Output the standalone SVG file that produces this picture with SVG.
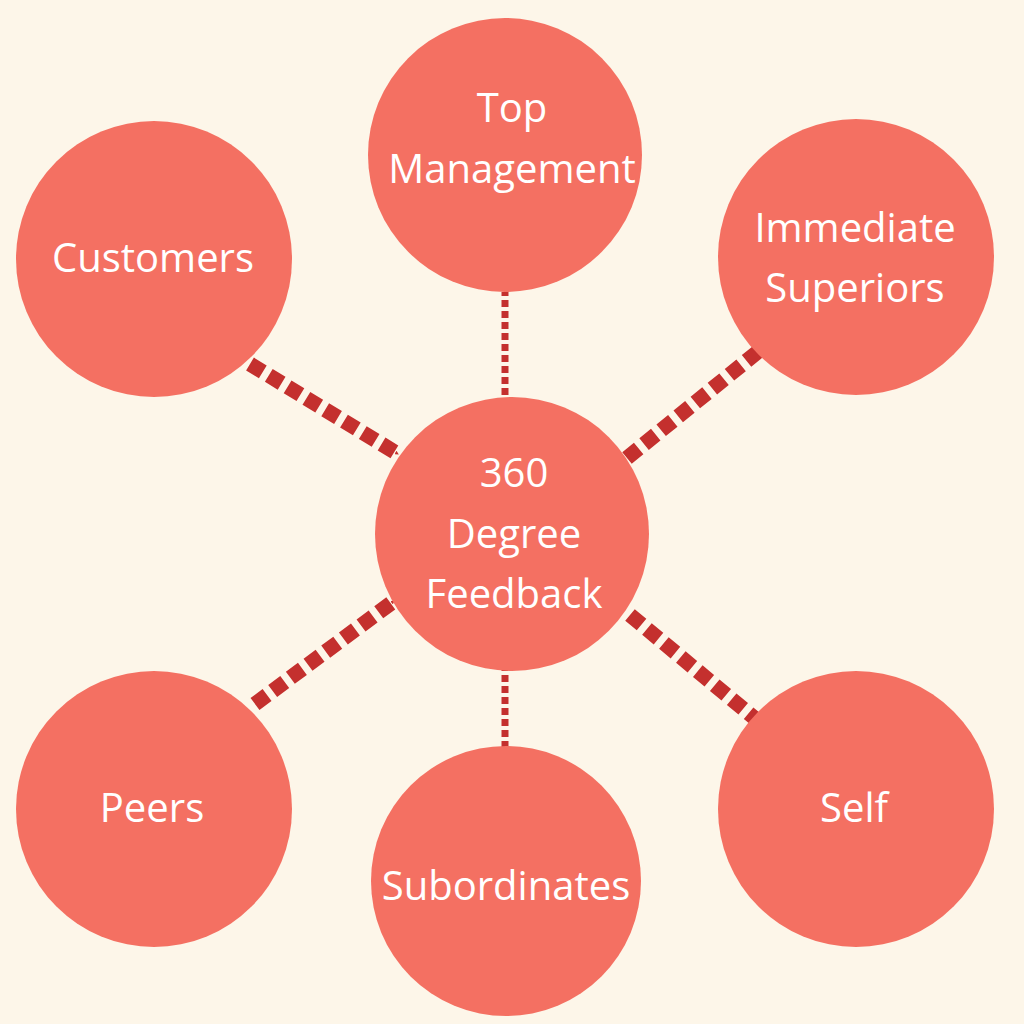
<svg xmlns="http://www.w3.org/2000/svg" width="1024" height="1024" viewBox="0 0 1024 1024">
<defs>
<style>
.node circle{fill:#F47062}
.node text{fill:#FFFFFF;font-family:"Open Sans","Noto Sans",sans-serif;font-size:40px;text-anchor:middle}
.thick{stroke:#C4302E;stroke-width:15;stroke-dasharray:15 7;fill:none}
.thin{stroke:#C4302E;stroke-width:7;stroke-dasharray:7 4;fill:none}
</style>
<marker id="tip" markerWidth="4" markerHeight="4" refX="3" refY="2" orient="auto" markerUnits="userSpaceOnUse" viewBox="0 0 4 4">
<path d="M0,0 L4,2 L0,4 z" fill="#C4302E"/>
</marker>
</defs>
<rect width="1024" height="1024" fill="#FDF6E9"/>
<g id="connectors">
<line class="thin" x1="505" y1="395" x2="505" y2="292" marker-end="url(#tip)"/>
<line class="thin" x1="505" y1="748" x2="505" y2="668" marker-end="url(#tip)"/>
<line class="thick" x1="250" y1="364" x2="398" y2="454" marker-end="url(#tip)"/>
<line class="thick" x1="627" y1="458" x2="760" y2="350" marker-end="url(#tip)"/>
<line class="thick" x1="255" y1="704" x2="394" y2="601" marker-end="url(#tip)"/>
<line class="thick" x1="630" y1="615" x2="758" y2="721" marker-end="url(#tip)"/>
</g>
<g id="top" class="node"><circle cx="505" cy="155" r="137"/><text x="512" y="122">Top</text><text x="512" y="183">Management</text></g>
<g id="customers" class="node"><circle cx="154" cy="259" r="138"/><text x="153" y="272">Customers</text></g>
<g id="superiors" class="node"><circle cx="856" cy="257" r="138"/><text x="855" y="242">Immediate</text><text x="855" y="302">Superiors</text></g>
<g id="center" class="node"><circle cx="512" cy="534" r="137"/><text x="514" y="487">360</text><text x="514" y="548">Degree</text><text x="514" y="608">Feedback</text></g>
<g id="peers" class="node"><circle cx="154" cy="809" r="138"/><text x="152" y="822">Peers</text></g>
<g id="subordinates" class="node"><circle cx="506" cy="881" r="135"/><text x="506" y="900">Subordinates</text></g>
<g id="self" class="node"><circle cx="856" cy="809" r="138"/><text x="854" y="822">Self</text></g>
</svg>
